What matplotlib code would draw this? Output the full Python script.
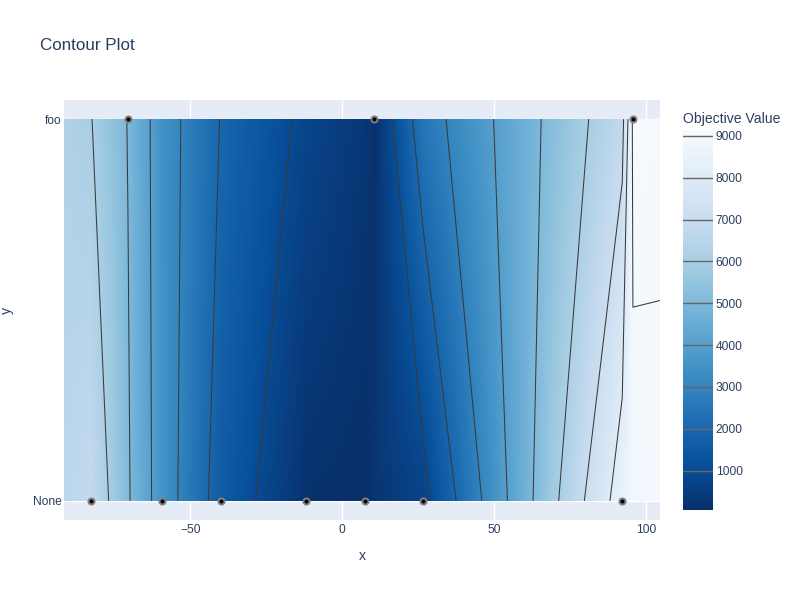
import numpy as np
import matplotlib
matplotlib.use("Agg")
import matplotlib.pyplot as plt
from matplotlib.colors import Normalize

plt.rcParams['font.family'] = ['Liberation Sans', 'DejaVu Sans']

# trials
x_none = [-82.6, -59.3, -39.9, -12.0, 7.6, 26.5, 92.1]
val_none = [6820, 3520, 1590, 145, 58, 700, 8480]
x_foo = [-70.5, 10.6, 95.6]
val_foo = [4970, 112, 9139]

y_labels = ["None", "foo"]
levels = [1000, 2000, 3000, 4000, 5000, 6000, 7000, 8000, 9000]
cbar_ticks = [1000, 2000, 3000, 4000, 5000, 6000, 7000, 8000, 9000]
x_ticks = [-50, 0, 50, 100]

text_color = '#2a3f5f'
bg_color = '#E5ECF6'

SHIFTS = [(-1, 0), (1, 0), (0, -1), (0, 1)]


def neighbours(z, i, j):
    out = []
    for di, dj in SHIFTS:
        ii, jj = i + di, j + dj
        if 0 <= ii < z.shape[0] and 0 <= jj < z.shape[1] and not np.isnan(z[ii, jj]):
            out.append(z[ii, jj])
    return out


def find_empties(z):
    nr, nc = z.shape
    empties = []
    hood = {}
    lonely = []
    for i in range(nr):
        for j in range(nc):
            if not np.isnan(z[i, j]):
                continue
            cnt = len(neighbours(z, i, j))
            if cnt:
                # edges count as neighbours here
                if i == 0:
                    cnt += 1
                if j == 0:
                    cnt += 1
                if i == nr - 1:
                    cnt += 1
                if j == nc - 1:
                    cnt += 1
                if cnt < 4:
                    hood[(i, j)] = cnt
                empties.append([i, j, cnt])
            else:
                lonely.append((i, j))
    while lonely:
        new = {}
        for p in range(len(lonely) - 1, -1, -1):
            i, j = lonely[p]
            cnt = sum(hood.get((i + di, j + dj), 0) for di, dj in SHIFTS) / 20
            if cnt:
                new[(i, j)] = cnt
                lonely.pop(p)
        if not new:
            break
        for k, v in new.items():
            hood[k] = v
            empties.append([k[0], k[1], v])
    empties.sort(key=lambda e: -e[2])
    return empties


def iterate(z, empties, overshoot=None):
    change = 0
    for i, j, cnt in empties:
        init = z[i, j]
        vals = neighbours(z, i, j)
        z[i, j] = sum(vals) / len(vals)
        if overshoot is None:
            if cnt < 4:
                change = 1
        else:
            z[i, j] = (1 + overshoot) * z[i, j] - overshoot * init
            if max(vals) > min(vals):
                change = max(change, abs(z[i, j] - init) / (max(vals) - min(vals)))
    return change


# grid like optuna: unique x values plus 5% padding on both sides
all_x = sorted(set(x_none + x_foo))
pad = (max(all_x) - min(all_x)) * 0.05
xs = [min(all_x) - pad] + all_x + [max(all_x) + pad]

z = np.full((2, len(xs)), np.nan)
for xv, v in zip(x_none, val_none):
    z[0, xs.index(xv)] = v
for xv, v in zip(x_foo, val_foo):
    z[1, xs.index(xv)] = v

# connectgaps, plotly style
empties = find_empties(z)
iterate(z, empties)
k = 0
while k < len(empties) and empties[k][2] >= 4:
    k += 1
empties = empties[k:]
change = 1
for it in range(100):
    if change <= 0.01:
        break
    change = iterate(z, empties, 0.5 - 0.25 * min(1, change * 0.5))

# bilinear upsampling for the heatmap coloring
xf = np.linspace(xs[0], xs[-1], 800)
yf = np.linspace(0, 1, 300)
row0 = np.interp(xf, xs, z[0])
row1 = np.interp(xf, xs, z[1])
zf = row0[None, :] * (1 - yf[:, None]) + row1[None, :] * yf[:, None]

zmin = min(val_none + val_foo)
zmax = max(val_none + val_foo)
norm = Normalize(zmin, zmax)

fig = plt.figure(figsize=(8, 6), dpi=100)
ax = fig.add_axes([64 / 800, 80 / 600, 596 / 800, 420 / 600])
ax.set_facecolor(bg_color)

im = ax.imshow(zf, cmap='Blues_r', norm=norm, origin='lower', aspect='auto',
               extent=[xs[0], xs[-1], 0, 1], interpolation='bilinear', zorder=2)
# contour lines on the coarse grid -> straight segments like plotly
ax.contour(xs, [0, 1], z, levels=levels, colors='#3a3a3a', linewidths=0.75, zorder=3)
ax.scatter(x_none, [0] * len(x_none), s=19, c='black', edgecolors='grey', linewidths=1.44, zorder=4, clip_on=False)
ax.scatter(x_foo, [1] * len(x_foo), s=19, c='black', edgecolors='grey', linewidths=1.44, zorder=4, clip_on=False)

ax.set_xlim(xs[0], xs[-1])
ax.set_ylim(-0.05, 1.05)
ax.set_xticks(x_ticks)
ax.set_xticklabels([str(t).replace('-', '\u2212') for t in x_ticks])
ax.set_yticks([0, 1])
ax.set_yticklabels(y_labels)
ax.grid(True, color='white', linewidth=1, zorder=1)
ax.set_axisbelow(True)
for s in ax.spines.values():
    s.set_visible(False)
ax.tick_params(axis='both', length=0, labelsize=8.64, labelcolor=text_color)
ax.tick_params(axis='x', pad=3)
ax.tick_params(axis='y', pad=1.5)
ax.set_xlabel('x', fontsize=10.08, color=text_color, labelpad=9)
ax.set_ylabel('y', fontsize=10.08, color=text_color, labelpad=14)

fig.text(40 / 800, 1 - 45 / 600, 'Contour Plot', fontsize=12.24, color=text_color, va='center', ha='left')

cax = fig.add_axes([683 / 800, 90 / 600, 30 / 800, 380 / 600])
cbar = fig.colorbar(im, cax=cax)
cbar.outline.set_visible(False)
cbar.set_ticks(cbar_ticks)
cbar.ax.tick_params(length=0, labelsize=8.64, labelcolor=text_color, pad=2)
for lv in levels:
    cbar.ax.axhline(lv, color='#666666', linewidth=1)
fig.text(683 / 800, 1 - 119 / 600, 'Objective Value', fontsize=10.08, color=text_color, va='center', ha='left')

fig.savefig('out.png', dpi=100)
